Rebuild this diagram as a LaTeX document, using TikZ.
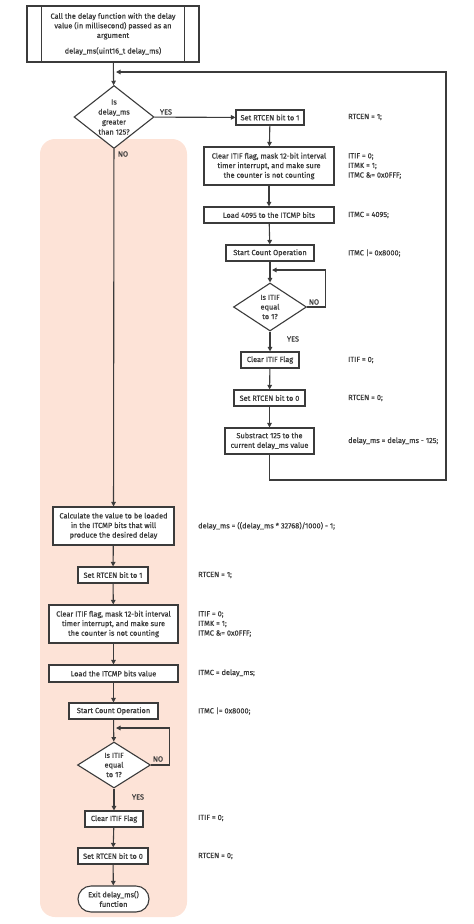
\documentclass[tikz,border=0pt]{standalone}
\usepackage{fontspec}
\setmainfont{Fira Sans}[FakeBold=0.7]
\usetikzlibrary{shapes.geometric,arrows.meta}
\definecolor{ink}{HTML}{3B3B3B}
\definecolor{peach}{HTML}{FDE3D7}
\newcommand{\boxfont}{\fontsize{7.4}{9.6}\selectfont}

\begin{document}
\begin{tikzpicture}[x=1pt,y=-1pt,
  every node/.style={text=ink},
  box/.style={draw=ink, line width=1.1pt, fill=white, align=center, inner sep=0pt, font=\boxfont},
  decision/.style={diamond, draw=ink, line width=1.1pt, fill=white, inner sep=0pt},
  code/.style={anchor=west, align=left, font=\boxfont, inner sep=0pt},
  tag/.style={font=\boxfont, inner sep=0pt},
  flow/.style={draw=ink, line width=1.1pt, -{Triangle[length=4.5pt,width=4.5pt]}}]
\useasboundingbox (0,0) rectangle (474,924);

% background of the NO branch
\fill[peach, rounded corners=15pt] (40,139) rectangle (187,917);

% entry
        \node (start) at (113,34) [box, minimum width=172, minimum height=56] {Call the delay function with the delay\\value (in millisecond) passed as an\\argument\\[6pt]delay\_ms(uint16\_t delay\_ms)};
        \draw[draw=ink, line width=1.1pt] ([xshift=15pt]start.north west) -- ([xshift=15pt]start.south west);
        \draw[draw=ink, line width=1.1pt] ([xshift=-15pt]start.north east) -- ([xshift=-15pt]start.south east);
        \node (q1) at (114,117) [decision, minimum width=80, minimum height=63] {};
        \node (q1txt) at (q1) [tag, align=center, font=\fontsize{7.4}{10}\selectfont] {Is\\delay\_ms\\greater\\than 125?};

% YES branch (right column)
        \node (rset1) at (270,117.5) [box, minimum width=68, minimum height=15] {Set RTCEN bit to 1};
        \node (rclr) at (269,166) [box, minimum width=130, minimum height=38] {Clear ITIF flag, mask 12-bit interval\\timer interrupt, and make sure\\the counter is not counting};
        \node (rload) at (269,215) [box, minimum width=130, minimum height=16] {Load 4095 to the ITCMP bits};
        \node (rsc) at (270,253) [box, minimum width=88, minimum height=16] {Start Count Operation};
        \node (rq) at (270,307) [decision, minimum width=73, minimum height=48] {};
        \node (rqtxt) at (rq) [tag, align=center] {Is ITIF\\equal\\to 1?};
        \node (rclrf) at (270,360) [box, minimum width=58, minimum height=16] {Clear ITIF Flag};
        \node (rset0) at (269.5,398) [box, minimum width=71, minimum height=16] {Set RTCEN bit to 0};
        \node (rsub) at (269.5,441) [box, minimum width=89, minimum height=26] {Substract 125 to the\\current delay\_ms value};

% NO branch (left column)
        \node (lcalc) at (113.5,526) [box, minimum width=121, minimum height=38] {Calculate the value to be loaded\\in the ITCMP bits that will\\produce the desired delay};
        \node (lset1) at (113,575) [box, minimum width=70, minimum height=16] {Set RTCEN bit to 1};
        \node (lclr) at (113.5,624) [box, minimum width=129, minimum height=38] {Clear ITIF flag, mask 12-bit interval\\timer interrupt, and make sure\\the counter is not counting};
        \node (lload) at (113.5,673.5) [box, minimum width=129, minimum height=17] {Load the ITCMP bits value};
        \node (lsc) at (113.5,711) [box, minimum width=89, minimum height=16] {Start Count Operation};
        \node (lq) at (114,765) [decision, minimum width=73, minimum height=46] {};
        \node (lqtxt) at (lq) [tag, align=center] {Is ITIF\\equal\\to 1?};
        \node (lclrf) at (114,819) [box, minimum width=58, minimum height=16] {Clear ITIF Flag};
        \node (lset0) at (113,856) [box, minimum width=70, minimum height=16] {Set RTCEN bit to 0};
        \node (lexit) at (113.5,899) [box, rounded corners=13pt, minimum width=71, minimum height=26] {Exit delay\_ms()\\function};

% loop points
        \coordinate (j1) at (116,72);
        \coordinate (back) at (446,480);
        \coordinate (rj) at (272,270);
        \coordinate (lj) at (116,728);

        \draw[flow] (start) to (q1);
        \draw[flow] (q1) to (rset1);
        \draw[flow] (q1) to (lcalc);
        \draw[flow] (rset1) to (rclr);
        \draw[flow] (rclr) to (rload);
        \draw[flow] (rload) to (rsc);
        \draw[flow] (rsc) to (rq);
        \draw[flow] (rq.east) -- ++(18,0) |- (rj);
        \draw[flow] (rq) to (rclrf);
        \draw[flow] (rclrf) to (rset0);
        \draw[flow] (rset0) to (rsub);
        \draw[flow] (rsub.south) |- (back) |- (j1);
        \draw[flow] (lcalc) to (lset1);
        \draw[flow] (lset1) to (lclr);
        \draw[flow] (lclr) to (lload);
        \draw[flow] (lload) to (lsc);
        \draw[flow] (lsc) to (lq);
        \draw[flow] (lq.east) -- ++(18,0) |- (lj);
        \draw[flow] (lq) to (lclrf);
        \draw[flow] (lclrf) to (lset0);
        \draw[flow] (lset0) to (lexit);

% branch labels
            \node (yes1) at (166,112) [tag] {YES};
            \node (no1) at (123,154) [tag] {NO};
            \node (no2) at (314,302) [tag] {NO};
            \node (yes2) at (293,339) [tag] {YES};
            \node (no3) at (158,759) [tag] {NO};
            \node (yes3) at (138,797) [tag] {YES};

% register code
            \node (c1) at (348,117) [code] {RTCEN = 1;};
            \node (c2) at (348,166) [code] {ITIF = 0;\\ITMK = 1;\\ITMC \&= 0x0FFF;};
            \node (c3) at (348,215) [code] {ITMC = 4095;};
            \node (c4) at (348,253) [code] {ITMC |= 0x8000;};
            \node (c5) at (348,360) [code] {ITIF = 0;};
            \node (c6) at (348,398) [code] {RTCEN = 0;};
            \node (c7) at (348,441) [code] {delay\_ms = delay\_ms - 125;};
            \node (c8) at (198,526) [code] {delay\_ms = ((delay\_ms * 32768)/1000) - 1;};
            \node (c9) at (198,575) [code] {RTCEN = 1;};
            \node (c10) at (198,624) [code] {ITIF = 0;\\ITMK = 1;\\ITMC \&= 0x0FFF;};
            \node (c11) at (198,673) [code] {ITMC = delay\_ms;};
            \node (c12) at (198,711) [code] {ITMC |= 0x8000;};
            \node (c13) at (198,818) [code] {ITIF = 0;};
            \node (c14) at (198,856) [code] {RTCEN = 0;};
\end{tikzpicture}
\end{document}
